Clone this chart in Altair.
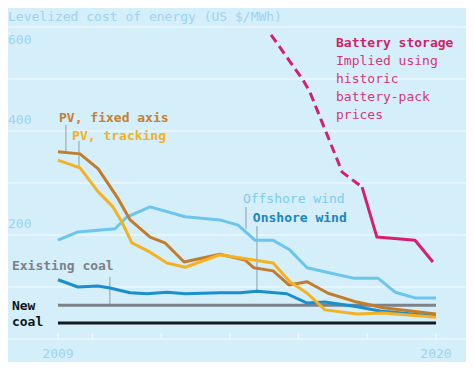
import altair as alt
import pandas as pd

# ---------------- data (years, US $/MWh) ----------------
pv_fixed_years = [2009.00, 2009.64, 2010.17, 2010.72, 2011.10, 2011.68, 2012.11, 2012.67, 2013.71,
                  2014.44, 2014.70, 2015.26, 2015.72, 2016.25, 2016.86, 2017.70, 2018.46, 2020.00]
pv_fixed = [360, 356, 327, 273, 229, 196, 185, 148, 163, 152, 137, 131, 104, 110, 88, 71, 60, 48]

pv_tracking_years = [2009.00, 2009.64, 2010.17, 2010.60, 2010.86, 2011.15, 2011.68, 2012.17, 2012.70,
                     2013.71, 2015.26, 2015.75, 2016.25, 2016.77, 2017.70, 2018.46, 2020.00]
pv_tracking = [344, 329, 283, 254, 225, 185, 167, 146, 138, 162, 146, 110, 88, 56, 48, 50, 42]

offshore_years = [2009.00, 2009.58, 2010.66, 2011.01, 2011.68, 2012.70, 2013.71, 2014.24, 2014.73,
                  2015.26, 2015.75, 2016.25, 2016.92, 2017.59, 2018.31, 2018.81, 2019.39, 2020.00]
offshore = [190, 206, 212, 235, 254, 235, 229, 219, 190, 190, 171, 137, 127, 117, 117, 90, 79, 79]

onshore_years = [2009.00, 2009.58, 2010.16, 2010.51, 2011.10, 2011.59, 2012.17, 2012.70, 2013.71,
                 2014.30, 2014.79, 2015.66, 2016.25, 2016.77, 2017.70, 2018.37, 2020.00]
onshore = [114, 100, 102, 98, 89, 87, 90, 87, 89, 89, 92, 87, 69, 71, 62, 54, 44]

coal_years = [2009.00, 2020.00]
existing_coal = [65, 65]
new_coal = [31, 31]

battery_implied_years = [2015.20, 2016.13, 2016.33, 2017.27, 2017.85]
battery_implied = [585, 498, 475, 321, 292]
battery_years = [2017.85, 2018.28, 2019.39, 2019.91]
battery = [292, 196, 190, 148]

grid_values = [0, 100, 200, 300, 400, 500, 600]
y_label_values = [200, 400]
y_top_label_values = [600]
tick_years = [2009, 2010, 2012, 2014, 2016, 2018, 2020]
x_label_years = [2009, 2020]

# ---------------- styling ----------------
BG = "#d4eefa"
FONT = "DejaVu Sans Mono"
AXIS_TXT = "#9dd4f1"
XDOM = [2007.545, 2020.873]
YDOM = [-44.23, 636.54]
TICK_LEN = 11.5          # tick length in data units (about 6 px)
XLABEL_Y = -28.8         # x-label row position in data units
x_scale = alt.Scale(domain=XDOM, nice=False, zero=False)
y_scale = alt.Scale(domain=YDOM, nice=False, zero=False)


def X(field="year"):
    return alt.X(f"{field}:Q", scale=x_scale, axis=None)


def Y(field="value"):
    return alt.Y(f"{field}:Q", scale=y_scale, axis=None)


def line_layer(xs, ys, color, width=3.0, dash=None):
    df = pd.DataFrame({"year": xs, "value": ys})
    kw = dict(color=color, strokeWidth=width, strokeJoin="round", strokeCap="butt")
    if dash:
        kw["strokeDash"] = dash
    return alt.Chart(df).mark_line(**kw).encode(x=X(), y=Y())


def text_layer(texts, xs, ys, color, weight="normal", size=13, dy=0, align="left"):
    df = pd.DataFrame({"t": texts, "year": xs, "value": ys})
    return alt.Chart(df).mark_text(
        align=align, baseline="middle", font=FONT, fontSize=size,
        fontWeight=weight, color=color, dy=dy
    ).encode(x=X(), y=Y(), text="t:N")


def leader(x, y1, y2):
    df = pd.DataFrame({"year": [x], "value": [y1], "value2": [y2]})
    return alt.Chart(df).mark_rule(color="#8e9fab", strokeWidth=1).encode(
        x=X(), y=Y(), y2="value2:Q")


grid = alt.Chart(pd.DataFrame({"value": grid_values})).mark_rule(
    color="#f4fbff", strokeWidth=1.2).encode(y=Y())

tick_df = pd.DataFrame({"year": tick_years,
                        "value": [0] * len(tick_years),
                        "value2": [TICK_LEN] * len(tick_years)})
ticks = alt.Chart(tick_df).mark_rule(color="#f4fbff", strokeWidth=1.2).encode(
    x=X(), y=Y(), y2="value2:Q")

xlabels = text_layer([str(v) for v in x_label_years], x_label_years,
                     [XLABEL_Y] * len(x_label_years), AXIS_TXT, align="center")

ylabels = text_layer([str(v) for v in y_label_values], [XDOM[0]] * len(y_label_values),
                     y_label_values, AXIS_TXT, dy=-11)
ytop = text_layer([str(v) for v in y_top_label_values], [XDOM[0]], y_top_label_values,
                  AXIS_TXT, dy=13)
title = text_layer(["Levelized cost of energy (US $/MWh)"], [XDOM[0]], [619], AXIS_TXT)

layers = [
    grid,
    ticks,
    xlabels,
    title, ylabels, ytop,
    leader(2009.23, 411.5, 361.5),
    leader(2009.61, 380.8, 330.8),
    leader(2014.47, 253.8, 211.5),
    leader(2014.79, 217.3, 92.3),
    leader(2010.51, 119.2, 65.4),
    line_layer(coal_years, existing_coal, "#7d8288"),
    line_layer(coal_years, new_coal, "#15181c"),
    line_layer(offshore_years, offshore, "#6cc5ec"),
    line_layer(onshore_years, onshore, "#1b8fcc"),
    line_layer(pv_fixed_years, pv_fixed, "#c27c2c"),
    line_layer(pv_tracking_years, pv_tracking, "#f4b223"),
    line_layer(battery_implied_years, battery_implied, "#d6206e", dash=[9, 5]),
    line_layer(battery_years, battery, "#d6206e"),
    text_layer(["PV, fixed axis"], [2009.03], [425], "#c4812f", weight="bold"),
    text_layer(["PV, tracking"], [2009.41], [390.4], "#f1b21f", weight="bold"),
    text_layer(["Offshore wind"], [2014.38], [269.2], "#7ccbee"),
    text_layer(["Onshore wind"], [2014.67], [232.7], "#1a85c1", weight="bold"),
    text_layer(["Existing coal"], [2007.66], [140.4], "#7b8187", weight="bold"),
    text_layer(["New", "coal"], [2007.66, 2007.66], [63.5, 32.7], "#111417", weight="bold"),
    text_layer(["Battery storage"], [2017.09], [569.2], "#d21f6a", weight="bold"),
    text_layer(["Implied using", "historic", "battery-pack", "prices"],
               [2017.09] * 4, [534.6, 500, 465.4, 430.8], "#d4367a"),
]

chart = alt.layer(*layers).properties(
    width=458, height=354, background=BG, padding=0,
    autosize=alt.AutoSizeParams(type="none"),
).configure_view(stroke=None, fill=BG)

chart.save("out.html", embed_options={"renderer": "svg", "actions": False})
